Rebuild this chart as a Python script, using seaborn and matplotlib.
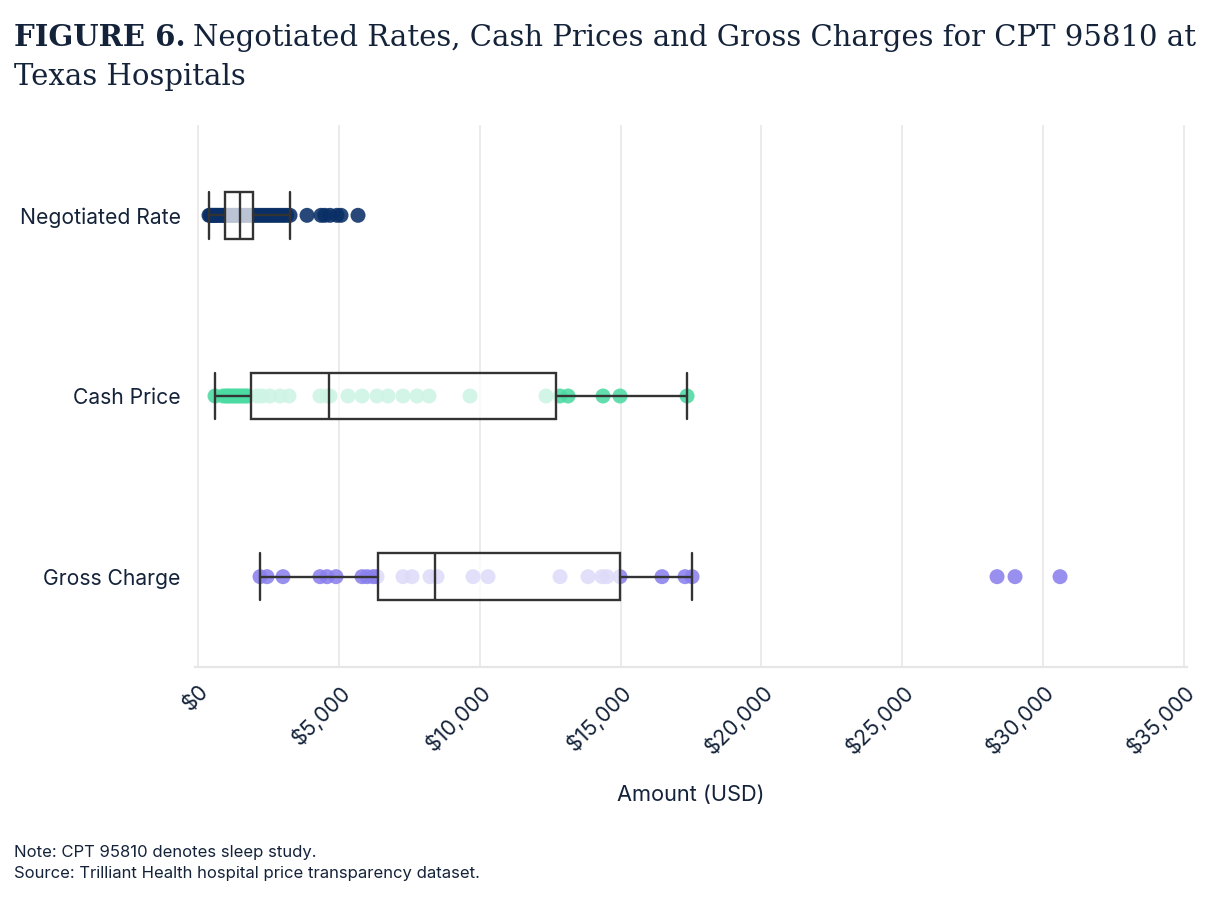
import matplotlib
matplotlib.use("Agg")
import matplotlib.pyplot as plt
import seaborn as sns
import pandas as pd
import numpy as np

# --- data ---
CATEGORIES = ["Negotiated Rate", "Cash Price", "Gross Charge"]

negotiated = [390, 430, 480, 540, 600, 660, 720, 790, 860, 930, 1000, 1080, 1150,
              1230, 1300, 1380, 1460, 1540, 1620, 1700, 1790, 1880, 1960, 2050,
              2150, 2250, 2350, 2450, 2550, 2650, 2750, 2850, 2950, 3050, 3150,
              3266, 3870, 4366, 4500, 4686, 4934, 5076, 5680]
cash = [603, 887, 1000, 1065, 1150, 1242, 1330, 1420, 1510, 1597, 1690, 1775,
        2094, 2272, 2556, 2911, 3230, 4331, 4579, 4686, 5325, 5822, 6354, 6745,
        7277, 7774, 8200, 9656, 12354, 12851, 13135, 14377, 14980, 17359]
gross = [2201, 2449, 3017, 4331, 4579, 4899, 5822, 6000, 6212, 6354, 7277, 7597,
         8236, 8484, 9762, 10295, 12851, 13845, 14342, 14519, 14980, 16471,
         17288, 17536, 28364, 29003, 30600]

# box statistics as drawn in the reference (whisker low, q1, median, q3, whisker high)
box_whislo = [390, 603, 2201]
box_q1 = [958, 1881, 6390]
box_med = [1491, 4650, 8413]
box_q3 = [1952, 12710, 14980]
box_whishi = [3266, 17359, 17536]

COLORS = ["#0a2f66", "#4cdaa3", "#8a80ec"]
X_TICKS = [0, 5000, 10000, 15000, 20000, 25000, 30000, 35000]
TEXT_COLOR = "#14233a"

df = pd.DataFrame({
    "category": (["Negotiated Rate"] * len(negotiated) + ["Cash Price"] * len(cash)
                 + ["Gross Charge"] * len(gross)),
    "amount": negotiated + cash + gross,
})

sns.set_theme(style="white")
plt.rcParams["font.family"] = ["Inter", "DejaVu Sans"]

fig = plt.figure(figsize=(12.24, 9.02), dpi=100)
ax = fig.add_axes([195.2 / 1224, (902 - 667) / 902, 991.6 / 1224, 542 / 902])

sns.stripplot(data=df, x="amount", y="category", hue="category", order=CATEGORIES,
              hue_order=CATEGORIES, palette=COLORS, jitter=False, size=10.8,
              alpha=0.88, linewidth=0, legend=False, ax=ax, zorder=2)

stats = []
for i in range(3):
    stats.append({"whislo": box_whislo[i], "q1": box_q1[i], "med": box_med[i],
                  "q3": box_q3[i], "whishi": box_whishi[i], "fliers": []})
line_kw = dict(color="#333333", linewidth=1.7)
ax.bxp(stats, positions=[0, 1, 2], widths=0.26, capwidths=0.26,
       orientation="horizontal", patch_artist=True, showfliers=False,
       boxprops=dict(facecolor=(1, 1, 1, 0.72), edgecolor="#333333", linewidth=1.7),
       medianprops=line_kw, whiskerprops=line_kw, capprops=line_kw,
       manage_ticks=False, zorder=3)

ax.set_xlim(-100, 35100)
ax.set_ylim(2.5, -0.5)
ax.set_xticks(X_TICKS)
ax.set_xticklabels([f"${v:,.0f}" for v in X_TICKS], rotation=45, ha="right",
                   rotation_mode="anchor", fontsize=15.5, color=TEXT_COLOR)
ax.set_yticks(range(3))
ax.set_yticklabels(CATEGORIES, fontsize=15.2, color=TEXT_COLOR)
ax.tick_params(axis="x", length=6, width=1.2, color="#e3e3e3", pad=4)
ax.tick_params(axis="y", length=9, width=1.2, color="#e3e3e3", pad=1.5)
ax.grid(axis="x", color="#ebebeb", linewidth=1.4)
ax.grid(axis="y", visible=False)
for side in ["top", "left", "right"]:
    ax.spines[side].set_visible(False)
ax.spines["bottom"].set_color("#e6e6e6")
ax.spines["bottom"].set_linewidth(1.6)
ax.set_ylabel("")
ax.set_xlabel("Amount (USD)", fontsize=15.7, color=TEXT_COLOR, labelpad=19)

# title: bold prefix followed by regular text
renderer = fig.canvas.get_renderer()
t1 = fig.text(14 / 1224, 1 - 46 / 902, "FIGURE 6.", fontsize=21, fontweight="bold",
              family="DejaVu Serif", color=TEXT_COLOR, va="baseline")
bb = t1.get_window_extent(renderer)
fig.text((bb.x1 + 7) / 1224, 1 - 46 / 902,
         "Negotiated Rates, Cash Prices and Gross Charges for CPT 95810 at",
         fontsize=21, family="DejaVu Serif", color=TEXT_COLOR, va="baseline")
fig.text(14 / 1224, 1 - 85 / 902, "Texas Hospitals", fontsize=21,
         family="DejaVu Serif", color=TEXT_COLOR, va="baseline")

fig.text(14 / 1224, 1 - 857 / 902, "Note: CPT 95810 denotes sleep study.",
         fontsize=12, color=TEXT_COLOR, va="baseline")
fig.text(14 / 1224, 1 - 878 / 902, "Source: Trilliant Health hospital price transparency dataset.",
         fontsize=12, color=TEXT_COLOR, va="baseline")

fig.savefig("out.png", dpi=100)
